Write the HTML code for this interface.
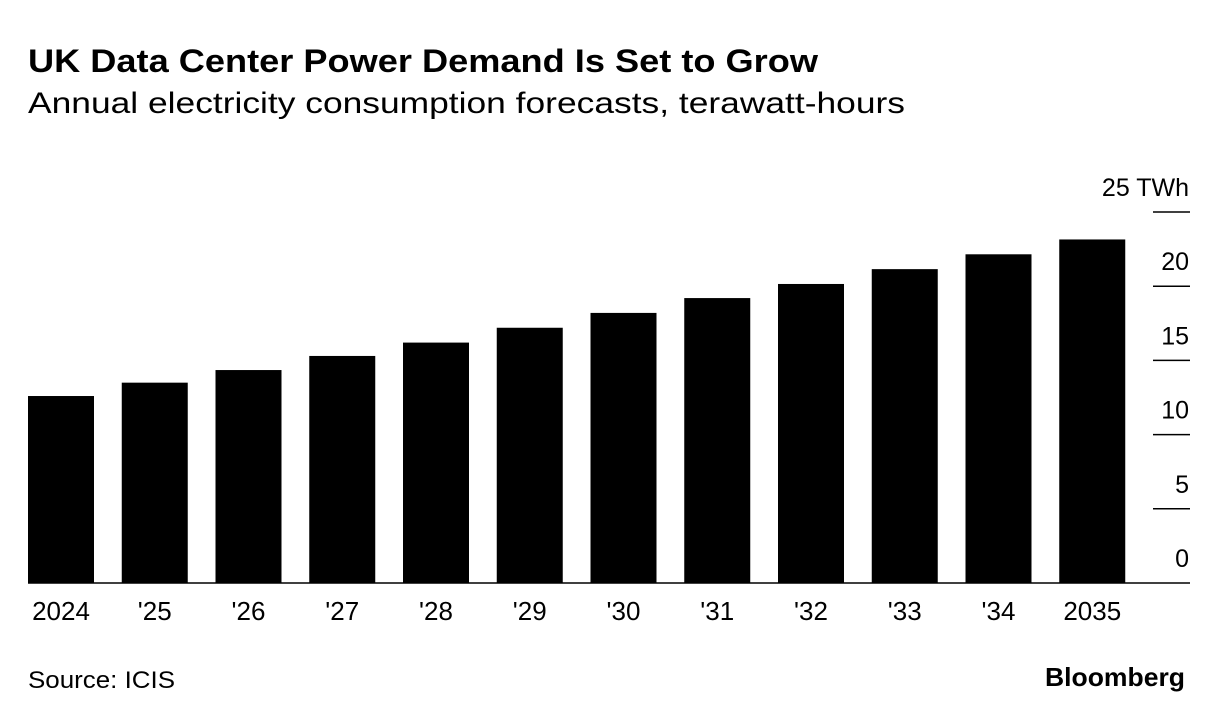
<!DOCTYPE html>
<html><head><meta charset="utf-8"><style>
body{margin:0;background:#fff;width:1223px;height:720px;overflow:hidden;font-family:"Liberation Sans",sans-serif}
</style></head><body>
<svg width="1223" height="720">
<text x="28" y="72" font-size="32" font-weight="bold" fill="#000" textLength="790" lengthAdjust="spacingAndGlyphs">UK Data Center Power Demand Is Set to Grow</text>
<text x="28" y="113" font-size="30" fill="#000" textLength="877" lengthAdjust="spacingAndGlyphs">Annual electricity consumption forecasts, terawatt-hours</text>
<g id="bars"></g><g id="yaxis"></g><g id="xaxis"></g>
<line x1="28" x2="1190" y1="583" y2="583" stroke="#000" stroke-width="1.5"/>
<text x="28" y="688" font-size="24" fill="#000" textLength="147" lengthAdjust="spacingAndGlyphs">Source: ICIS</text>
<text x="1045" y="686" font-size="26" font-weight="bold" fill="#000" textLength="140" lengthAdjust="spacingAndGlyphs">Bloomberg</text>
</svg>
<script>
const categories=["2024","'25","'26","'27","'28","'29","'30","'31","'32","'33","'34","2035"];
const values=[12.6,13.5,14.35,15.3,16.2,17.2,18.2,19.2,20.15,21.15,22.15,23.15];
const yTicks=[0,5,10,15,20,25];
const yTickLabels=["0","5","10","15","20","25 TWh"];
const ns="http://www.w3.org/2000/svg";
const y=v=>583-v*(583-212)/25;
const x=i=>28+i*93.75;
const bw=66;
const bars=document.getElementById('bars'),xa=document.getElementById('xaxis'),ya=document.getElementById('yaxis');
values.forEach((v,i)=>{
 const r=document.createElementNS(ns,'rect');
 r.setAttribute('x',x(i));r.setAttribute('y',y(v));r.setAttribute('width',bw);r.setAttribute('height',583-y(v));r.setAttribute('fill','#000');
 
 
 bars.appendChild(r);
 const t=document.createElementNS(ns,'text');
 t.setAttribute('x',x(i)+bw/2);t.setAttribute('y',620);t.setAttribute('text-anchor','middle');t.setAttribute('font-size','26');
 t.textContent=categories[i];
 
 
 xa.appendChild(t);
});
yTicks.forEach((v,i)=>{
 if(v>0){const l=document.createElementNS(ns,'line');
 l.setAttribute('x1',1153);l.setAttribute('x2',1190);l.setAttribute('y1',y(v));l.setAttribute('y2',y(v));l.setAttribute('stroke','#000');l.setAttribute('stroke-width','1.5');
 
 
 ya.appendChild(l);}
 const t=document.createElementNS(ns,'text');
 t.setAttribute('x',1189);t.setAttribute('y',y(v)-16);t.setAttribute('text-anchor','end');t.setAttribute('font-size','25');
 t.textContent=yTickLabels[i];
 
 
 ya.appendChild(t);
});
</script>
</body></html>
